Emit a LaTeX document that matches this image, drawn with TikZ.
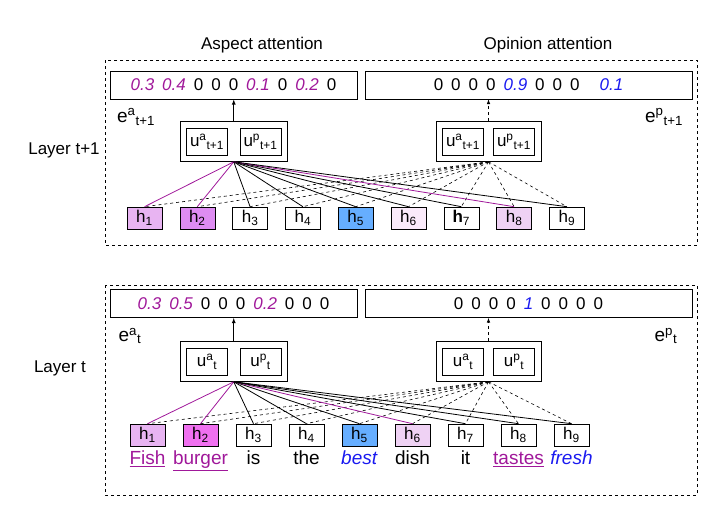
\documentclass[tikz,border=0pt]{standalone}
\usepackage{fontspec}
\setmainfont{Liberation Sans}
\usetikzlibrary{positioning,fit}
\definecolor{asp}{HTML}{A0189A}
\definecolor{opn}{HTML}{1A1AF0}
\definecolor{hbA}{HTML}{E8B4F2}
\definecolor{hbB}{HTML}{DE8CF2}
\definecolor{hbC}{HTML}{F070F0}
\definecolor{hbD}{HTML}{66AEFF}
\definecolor{hbE}{HTML}{FAEAFA}
\definecolor{hbF}{HTML}{EFD2F4}
\newcommand{\av}[1]{\textcolor{asp}{\textit{#1}}}
\newcommand{\ov}[1]{\textcolor{opn}{\textit{#1}}}
\newcommand{\su}[3]{#1\textsuperscript{#2}\textsubscript{#3}}
\newcommand{\gp}{\hspace{8pt}}
\tikzset{
  layer/.style={draw, dashed, line width=0.6pt},
  vecbox/.style={draw, line width=0.8pt, minimum height=28pt, inner sep=0pt, font=\fontsize{17}{19}\selectfont},
  ubox/.style={draw, line width=0.8pt, inner sep=0pt},
  uin/.style={draw, line width=0.8pt, minimum width=41pt, minimum height=27pt, inner sep=0pt, font=\fontsize{17}{19}\selectfont},
  hbox/.style={draw, line width=0.6pt, minimum width=35pt, minimum height=22pt, inner sep=0pt, font=\fontsize{17}{19}\selectfont},
  word/.style={font=\fontsize{19}{21}\selectfont},
  lbl/.style={font=\fontsize{17}{19}\selectfont}
}
\begin{document}
\begin{tikzpicture}[x=1pt,y=-1pt]
\useasboundingbox (0,0) rectangle (720,509);

% titles and layer labels
\node[lbl] at (262,45) {Aspect attention};
\node[lbl] at (548,45) {Opinion attention};
\node[lbl] (L1) at (64,150) {Layer t+1};
\node[lbl] (L0) at (60,368) {Layer t};

% dashed layer frames
\draw[layer] (105,60) rectangle (697,245);
\draw[layer] (105,285) rectangle (697,495);

% ---------- layer t+1 ----------
\node[vecbox, minimum width=247pt] (ea1) at (233.5,85)
  {\av{0.3}\gp\av{0.4}\gp0\gp0\gp0\gp\av{0.1}\gp0\gp\av{0.2}\gp0};
\node[vecbox, minimum width=327pt] (ep1) at (528.5,85)
  {0\gp0\gp0\gp0\gp\ov{0.9}\gp0\gp0\gp0\hspace{20pt}\ov{0.1}};
\node[lbl, font=\fontsize{19}{21}\selectfont] at (136,117) {\su{e}{a}{t+1}};
\node[lbl, font=\fontsize{19}{21}\selectfont] at (664,117) {\su{e}{p}{t+1}};

\node[uin] (ua1) at (207,141.5) {\su{u}{a}{t+1}};
\node[uin] (up1) at (260.5,141.5) {\su{u}{p}{t+1}};
\node[ubox, fit=(ua1)(up1), inner sep=6pt] (ul1) {};
\node[uin] (va1) at (463,141.5) {\su{u}{a}{t+1}};
\node[uin] (vp1) at (514,141.5) {\su{u}{p}{t+1}};
\node[ubox, fit=(va1)(vp1), inner sep=6pt] (ur1) {};

\draw[-latex, line width=0.8pt] (ul1.north) -- (ul1.north |- ea1.south);
\draw[-latex, dashed, line width=0.6pt] (ur1.north) -- (ur1.north |- ep1.south);

\foreach \i/\c/\t in {1/hbA/h,2/hbB/h,3/white/h,4/white/h,5/hbD/h,6/hbE/h,7/white/\textbf{h},8/hbF/h,9/white/h}{
  \node[hbox, fill=\c] (hT\i) at ({144.5+52.8*(\i-1)},218) {\t\textsubscript{\i}};
}
\foreach \i in {1,...,9}{
  \draw[dashed, line width=0.6pt] (ur1.south) -- (hT\i.north);
}
\foreach \i/\c in {1/asp,2/asp,3/black,4/black,5/black,6/black,7/black,8/asp,9/black}{
  \draw[\c, line width=0.8pt] (ul1.south) -- (hT\i.north);
}

% ---------- layer t ----------
\node[vecbox, minimum width=247pt] (ea0) at (233.5,303.5)
  {\av{0.3}\gp\av{0.5}\gp0\gp0\gp0\gp\av{0.2}\gp0\gp0\gp0};
\node[vecbox, minimum width=327pt] (ep0) at (528.5,303.5)
  {0\gp0\gp0\gp0\gp\ov{1}\gp0\gp0\gp0\gp0};
\node[lbl, font=\fontsize{19}{21}\selectfont] at (130,336) {\su{e}{a}{t}};
\node[lbl, font=\fontsize{19}{21}\selectfont] at (666,336) {\su{e}{p}{t}};

\node[uin] (ua0) at (207,361.5) {\su{u}{a}{t}};
\node[uin] (up0) at (260.5,361.5) {\su{u}{p}{t}};
\node[ubox, fit=(ua0)(up0), inner sep=6pt] (ul0) {};
\node[uin] (va0) at (463,361.5) {\su{u}{a}{t}};
\node[uin] (vp0) at (514,361.5) {\su{u}{p}{t}};
\node[ubox, fit=(va0)(vp0), inner sep=6pt] (ur0) {};

\draw[-latex, line width=0.8pt] (ul0.north) -- (ul0.north |- ea0.south);
\draw[-latex, dashed, line width=0.6pt] (ur0.north) -- (ur0.north |- ep0.south);

\foreach \i/\c in {1/hbA,2/hbC,3/white,4/white,5/hbD,6/hbF,7/white,8/white,9/white}{
  \node[hbox, fill=\c] (hB\i) at ({147.5+53*(\i-1)},435) {h\textsubscript{\i}};
}
\foreach \i/\w/\c in {1/{\underline{Fish}}/asp,2/{\underline{burger}}/asp,3/is/black,4/the/black,5/{\textit{best}}/opn,6/dish/black,7/it/black,8/{\underline{tastes}}/asp,9/{\textit{fresh}}/opn}{
  \node[word, text=\c, below=0pt of hB\i] (w\i) {\strut\w};
}
\foreach \i in {1,...,9}{
  \draw[dashed, line width=0.6pt] (ur0.south) -- (hB\i.north);
}
\foreach \i/\c in {1/asp,2/asp,3/black,4/black,5/black,6/asp,7/black,8/black,9/black}{
  \draw[\c, line width=0.8pt] (ul0.south) -- (hB\i.north);
}
\end{tikzpicture}
\end{document}
